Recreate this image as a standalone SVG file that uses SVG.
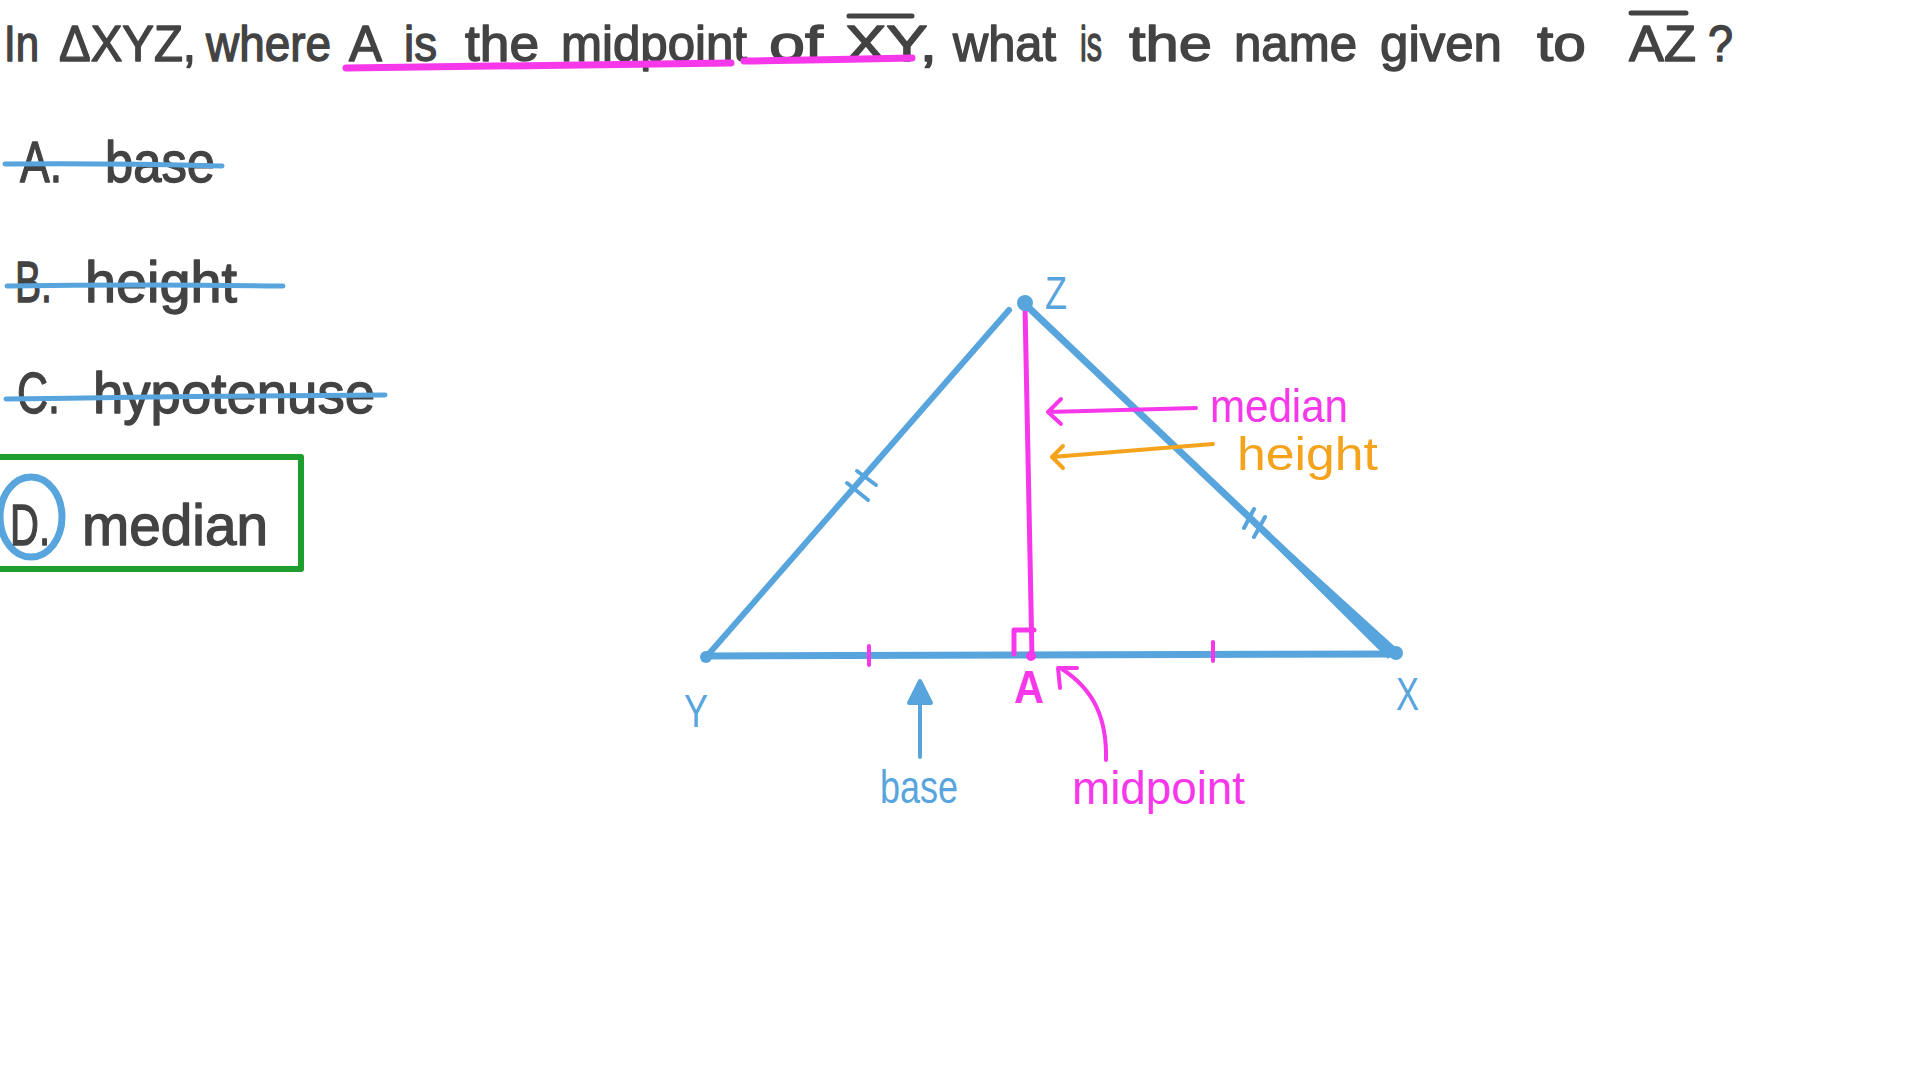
<svg xmlns="http://www.w3.org/2000/svg" width="1920" height="1080" viewBox="0 0 1920 1080">
<style>
.t{font-family:"Liberation Sans","DejaVu Sans",sans-serif;fill:#434343;stroke:#434343;stroke-width:1.4;stroke-linejoin:round}
.q{font-size:58px}
.h{font-size:50px}
.blue{stroke:#58A5DE;fill:none;stroke-linecap:round;stroke-linejoin:round}
.mag{stroke:#F637EA;fill:none;stroke-linecap:round;stroke-linejoin:round}
.org{stroke:#F5A31C;fill:none;stroke-linecap:round;stroke-linejoin:round}
.lb{font-family:"Liberation Sans","DejaVu Sans",sans-serif;font-size:46px}
.lblue{fill:#58A5DE}
.lmag{fill:#F637EA}
.lorg{fill:#F5A31C}
</style>
<rect width="1920" height="1080" fill="#ffffff"/>

<g id="question">
<text class="t h" y="61" x="4" textLength="35" lengthAdjust="spacingAndGlyphs">In</text>
<text class="t h" y="61" x="59" textLength="137" lengthAdjust="spacingAndGlyphs">ΔXYZ,</text>
<text class="t h" y="61" x="206" textLength="125" lengthAdjust="spacingAndGlyphs">where</text>
<text class="t h" y="61" x="349" textLength="33" lengthAdjust="spacingAndGlyphs">A</text>
<text class="t h" y="61" x="404" textLength="33" lengthAdjust="spacingAndGlyphs">is</text>
<text class="t h" y="61" x="465" textLength="74" lengthAdjust="spacingAndGlyphs">the</text>
<text class="t h" y="61" x="561" textLength="186" lengthAdjust="spacingAndGlyphs">midpoint</text>
<text class="t h" y="61" x="769" textLength="54" lengthAdjust="spacingAndGlyphs">of</text>
<text class="t h" y="61" x="845" textLength="92" lengthAdjust="spacingAndGlyphs">XY,</text>
<text class="t h" y="61" x="953" textLength="103" lengthAdjust="spacingAndGlyphs">what</text>
<text class="t h" y="61" x="1080" textLength="22" lengthAdjust="spacingAndGlyphs">is</text>
<text class="t h" y="61" x="1129" textLength="83" lengthAdjust="spacingAndGlyphs">the</text>
<text class="t h" y="61" x="1234" textLength="123" lengthAdjust="spacingAndGlyphs">name</text>
<text class="t h" y="61" x="1380" textLength="122" lengthAdjust="spacingAndGlyphs">given</text>
<text class="t h" y="61" x="1537" textLength="49" lengthAdjust="spacingAndGlyphs">to</text>
<text class="t h" y="61" x="1629" textLength="67" lengthAdjust="spacingAndGlyphs">AZ</text>
<text class="t h" y="61" x="1708" textLength="25" lengthAdjust="spacingAndGlyphs">?</text>
<path d="M849 16 H912 M1631 13 H1686" stroke="#434343" stroke-width="5" stroke-linecap="round"/>
<path class="mag" d="M346 68 Q540 66 731 63 M744 61 Q830 60 912 58" stroke-width="7"/>
</g>

<g id="option-a">
<text class="t q" y="182" x="20" textLength="42" lengthAdjust="spacingAndGlyphs">A.</text>
<text class="t q" y="182" x="105" textLength="110" lengthAdjust="spacingAndGlyphs">base</text>
<path class="blue" d="M5 164 Q110 163 222 166" stroke-width="5"/>
</g>
<g id="option-b">
<text class="t q" y="302" x="15" textLength="37" lengthAdjust="spacingAndGlyphs">B.</text>
<text class="t q" y="302" x="85" textLength="152" lengthAdjust="spacingAndGlyphs">height</text>
<path class="blue" d="M7 286 Q140 284 283 286" stroke-width="5"/>
</g>
<g id="option-c">
<text class="t q" y="413" x="17" textLength="43" lengthAdjust="spacingAndGlyphs">C.</text>
<text class="t q" y="413" x="93" textLength="282" lengthAdjust="spacingAndGlyphs">hypotenuse</text>
<path class="blue" d="M6 399 Q200 396 385 395" stroke-width="5"/>
</g>
<g id="option-d">
<path d="M-5 457 H301 V569 H-5" fill="none" stroke="#1E9E2E" stroke-width="6" stroke-linejoin="round"/>
<ellipse cx="31" cy="517" rx="31" ry="40" fill="none" stroke="#58A5DE" stroke-width="7"/>
<text class="t q" y="545" x="10" textLength="40" lengthAdjust="spacingAndGlyphs">D.</text>
<text class="t q" y="545" x="82" textLength="186" lengthAdjust="spacingAndGlyphs">median</text>
</g>

<g id="connectors">
<path id="side-YZ" class="blue" d="M707 656 L1009 310" stroke-width="6"/>
<path id="side-ZX" class="blue" d="M1028 307 L1392 653" stroke-width="7"/>
<path d="M1200 471 L1388 657.5 L1396 649 Z" fill="#58A5DE" stroke="#58A5DE" stroke-width="2" stroke-linejoin="round"/>
<path id="side-YX" class="blue" d="M707 656 L1397 654" stroke-width="7"/>
<path id="median-AZ" class="mag" d="M1025 306 L1032 657" stroke-width="5"/>
<path id="right-angle" class="mag" d="M1014 654 V630 H1034" stroke-width="5"/>
<path id="ticks-base" class="mag" d="M869 646 V665 M1213 642 V661" stroke-width="4"/>
<path id="ticks-YZ" class="blue" d="M847 483 L868 500 M857 471 L876 485" stroke-width="4"/>
<path id="ticks-XZ" class="blue" d="M1254 509 L1244 528 M1265 517 L1254 537" stroke-width="4"/>
<path id="arrow-median" class="mag" d="M1196 408 L1048 412 M1061 399 L1048 412 L1061 424" stroke-width="4"/>
<path id="arrow-height" class="org" d="M1213 444 L1052 457 M1063 446 L1052 457 L1063 468" stroke-width="4"/>
<path id="arrow-base" class="blue" d="M920 757 L920 690" stroke-width="4"/>
<path d="M909 703 L920 681 L931 703 Z" fill="#58A5DE" stroke="#58A5DE" stroke-width="4" stroke-linejoin="round"/>
<path id="arrow-midpoint" class="mag" d="M1106 760 C1107 718 1094 690 1062 669 M1060 688 L1058 668 L1077 668" stroke-width="4"/>
</g>

<g id="vertex-Z">
<circle cx="1025" cy="303" r="8" fill="#58A5DE"/>
<text class="lb lblue" x="1045" y="309" font-size="32" textLength="22" lengthAdjust="spacingAndGlyphs">Z</text>
</g>
<g id="vertex-Y">
<circle cx="706" cy="657" r="6" fill="#58A5DE"/>
<text class="lb lblue" x="684" y="727" font-size="60" textLength="24" lengthAdjust="spacingAndGlyphs">Y</text>
</g>
<g id="vertex-X">
<circle cx="1396" cy="653" r="7" fill="#58A5DE"/>
<text class="lb lblue" x="1396" y="710" font-size="42" textLength="23" lengthAdjust="spacingAndGlyphs">X</text>
</g>
<g id="point-A">
<circle cx="1031" cy="656" r="5" fill="#F637EA"/>
<text class="lb lmag" x="1014" y="703" font-size="38" font-weight="bold" textLength="30" lengthAdjust="spacingAndGlyphs">A</text>
</g>
<g id="label-median"><text class="lb lmag" x="1210" y="422" textLength="138" lengthAdjust="spacingAndGlyphs">median</text></g>
<g id="label-height"><text class="lb lorg" x="1237" y="470" textLength="141" lengthAdjust="spacingAndGlyphs">height</text></g>
<g id="label-base"><text class="lb lblue" x="880" y="803" font-size="42" textLength="78" lengthAdjust="spacingAndGlyphs">base</text></g>
<g id="label-midpoint"><text class="lb lmag" x="1072" y="804" textLength="173" lengthAdjust="spacingAndGlyphs">midpoint</text></g>
</svg>
